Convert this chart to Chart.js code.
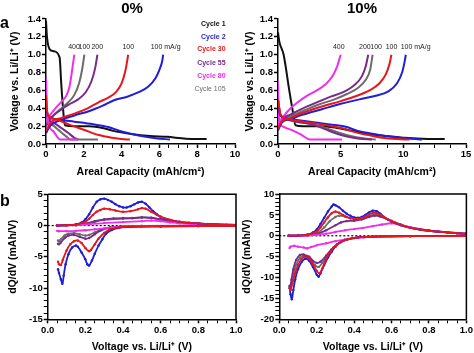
<!DOCTYPE html>
<html>
<head>
<meta charset="utf-8">
<script src="https://cdn.jsdelivr.net/npm/chart.js@4.4.0/dist/chart.umd.min.js"></script>
<style>
  html, body { margin: 0; padding: 0; background: #fff; }
  #wrap { position: relative; width: 474px; height: 353px; overflow: hidden; font-family: "Liberation Sans", Arial, sans-serif; }
  canvas { position: absolute; left: 0; top: 0; }
  .lbl { position: absolute; font-weight: bold; color: #000; line-height: 1; white-space: nowrap; }
</style>
</head>
<body>
<div id="wrap">
  <canvas id="ga0" width="474" height="353"></canvas>
  <canvas id="ga10" width="474" height="353"></canvas>
  <canvas id="gb0" width="474" height="353"></canvas>
  <canvas id="gb10" width="474" height="353"></canvas>
  <div class="lbl" style="left:0;top:15px;font-size:16px">a</div>
  <div class="lbl" style="left:0;top:193px;font-size:16px">b</div>
  <div class="lbl" style="left:132px;top:0;font-size:15px;transform:translateX(-50%)">0%</div>
  <div class="lbl" style="left:362px;top:0;font-size:15px;transform:translateX(-50%)">10%</div>
</div>
<script>
// ---- data: capacity (mAh/cm2), voltage (V) ----
const cycles = ['Cycle 1', 'Cycle 2', 'Cycle 30', 'Cycle 55', 'Cycle 80', 'Cycle 105'];

// 0 % electrode
const g0_c1_dis = [[0,1.38],[0.05,1.2],[0.2,1.06],[0.4,1.04],[0.72,0.97],[0.8,0.7],[0.9,0.4],[1.0,0.21],[1.5,0.2],[2.3,0.2],[3.0,0.18],[3.5,0.15],[4.6,0.11],[5.5,0.09],[6.4,0.08],[7.4,0.06],[8.5,0.055]];
const g0_c2_dis = [[0,0.42],[0.1,0.32],[0.3,0.29],[0.8,0.27],[1.5,0.25],[2.5,0.22],[3.3,0.19],[4.0,0.14],[4.6,0.11],[5.2,0.085],[5.8,0.065],[6.56,0.05]];
const g0_c2_chg = [[0,0.12],[0.2,0.2],[0.8,0.27],[1.5,0.32],[2.3,0.37],[3.0,0.43],[3.6,0.49],[4.3,0.53],[4.9,0.58],[5.4,0.64],[5.8,0.74],[6.0,0.83],[6.15,0.93],[6.2,1.0]];
const g0_c30_dis = [[0,0.55],[0.05,0.38],[0.2,0.3],[0.6,0.27],[1.2,0.22],[2.0,0.16],[2.8,0.1],[3.5,0.07],[4.0,0.055],[4.44,0.05]];
const g0_c30_chg = [[0,0.15],[0.3,0.25],[0.8,0.29],[1.5,0.34],[2.2,0.4],[2.8,0.47],[3.3,0.52],[3.7,0.58],[4.0,0.68],[4.2,0.82],[4.35,1.0]];
const g0_c55_dis = [[0,0.5],[0.05,0.32],[0.3,0.25],[0.8,0.18],[1.2,0.12],[1.5,0.07],[1.7,0.05]];
const g0_c55_chg = [[0,0.2],[0.3,0.3],[0.7,0.37],[1.2,0.44],[1.7,0.5],[2.1,0.58],[2.4,0.7],[2.6,0.85],[2.72,1.0]];
const g0_c80_dis = [[0,0.75],[0.05,0.4],[0.15,0.22],[0.4,0.14],[0.75,0.05],[1.7,0.05]];
const g0_c80_chg = [[0,0.25],[0.2,0.32],[0.5,0.4],[0.8,0.47],[1.1,0.55],[1.25,0.65],[1.35,0.78],[1.43,0.9],[1.5,1.0]];
const g0_c105_dis = [[0,0.45],[0.05,0.3],[0.3,0.22],[0.7,0.15],[1.1,0.08],[1.3,0.05],[2.75,0.05]];
const g0_c105_chg = [[0,0.22],[0.3,0.3],[0.7,0.38],[1.1,0.45],[1.5,0.55],[1.75,0.68],[1.9,0.82],[2.03,1.0]];
const rate0_text = ['400', '100', '200', '100', '100 mA/g'];
const rate0_cap = [1.48, 2.03, 2.71, 4.35, 6.33];

// 10 % electrode
const g10_c1_dis = [[0,1.25],[0.1,1.15],[0.45,1.0],[0.9,0.6],[1.2,0.35],[1.4,0.21],[2.0,0.2],[3.4,0.2],[4.7,0.18],[5.8,0.15],[7.4,0.11],[9.0,0.085],[10.1,0.07],[11.5,0.06],[13.3,0.055]];
const g10_c2_dis = [[0,0.42],[0.2,0.32],[0.6,0.29],[1.5,0.27],[3.0,0.24],[4.7,0.21],[5.5,0.19],[6.3,0.15],[7.3,0.12],[8.3,0.095],[9.8,0.07],[11.0,0.055],[11.5,0.05]];
const g10_c2_chg = [[0,0.15],[0.3,0.24],[1.0,0.28],[2.0,0.33],[3.5,0.39],[5.0,0.45],[6.5,0.5],[7.8,0.54],[8.8,0.59],[9.5,0.68],[9.9,0.8],[10.1,0.92],[10.2,1.0]];
const g10_c30_dis = [[0,0.5],[0.2,0.33],[0.6,0.29],[1.5,0.26],[3.0,0.23],[4.3,0.2],[5.3,0.17],[6.2,0.13],[7.2,0.1],[8.3,0.07],[9.5,0.055],[10.5,0.05]];
const g10_c30_chg = [[0,0.17],[0.3,0.25],[1.0,0.29],[2.0,0.35],[3.5,0.42],[5.0,0.48],[6.3,0.54],[7.3,0.6],[8.1,0.68],[8.6,0.78],[8.9,0.9],[9.05,1.0]];
const g10_c55_dis = [[0,0.5],[0.2,0.32],[0.6,0.28],[1.5,0.25],[2.7,0.22],[3.7,0.17],[4.6,0.12],[5.5,0.085],[6.5,0.06],[7.5,0.05]];
const g10_c55_chg = [[0,0.2],[0.3,0.28],[1.0,0.33],[2.0,0.4],[3.0,0.46],[4.0,0.52],[5.2,0.58],[6.1,0.66],[6.7,0.76],[7.0,0.87],[7.2,1.0]];
const g10_c80_dis = [[0,0.7],[0.05,0.35],[0.2,0.22],[0.5,0.19],[1.2,0.15],[1.9,0.1],[2.55,0.05],[5.1,0.05]];
const g10_c80_chg = [[0,0.2],[0.2,0.26],[0.5,0.32],[1.0,0.4],[1.6,0.47],[2.3,0.54],[3.1,0.6],[3.8,0.67],[4.3,0.75],[4.7,0.86],[5.0,1.0]];
const g10_c105_dis = [[0,0.5],[0.2,0.32],[0.6,0.28],[1.5,0.25],[2.8,0.22],[3.8,0.18],[4.8,0.13],[5.8,0.09],[6.8,0.065],[7.8,0.05]];
const g10_c105_chg = [[0,0.2],[0.3,0.27],[1.0,0.31],[2.0,0.37],[3.2,0.44],[4.5,0.5],[5.5,0.56],[6.4,0.63],[7.0,0.72],[7.35,0.83],[7.55,1.0]];
const rate10_text = ['400', '200', '100', '100', '100 mA/g'];
const rate10_cap = [4.85, 6.93, 7.83, 9.06, 10.98];

// ---- data: dQ/dV (mAh/V) vs voltage (V) ----
const d0_c2_chg = [[0.05,0],[0.1,0.05],[0.15,0.2],[0.18,0.5],[0.2,1.0],[0.22,1.8],[0.24,2.9],[0.26,3.8],[0.28,4.2],[0.3,4.3],[0.32,4.1],[0.34,3.8],[0.36,3.4],[0.38,3.1],[0.4,2.9],[0.42,2.9],[0.44,3.1],[0.46,3.4],[0.48,3.7],[0.5,3.8],[0.52,3.5],[0.54,2.9],[0.56,2.3],[0.58,1.8],[0.6,1.4],[0.65,0.9],[0.7,0.6],[0.75,0.45],[0.8,0.35],[0.85,0.25],[0.9,0.2],[0.95,0.15],[1.0,0.1]];
const d0_c2_dis = [[1.0,-0.05],[0.8,-0.1],[0.6,-0.15],[0.45,-0.2],[0.38,-0.35],[0.34,-0.7],[0.31,-1.3],[0.29,-2.2],[0.27,-3.2],[0.25,-4.5],[0.235,-5.6],[0.22,-6.4],[0.21,-6.2],[0.2,-5.4],[0.18,-4.3],[0.16,-3.4],[0.15,-3.2],[0.13,-3.5],[0.11,-4.6],[0.095,-6.2],[0.085,-8],[0.078,-9.3],[0.07,-8.6],[0.06,-7.6],[0.055,-7]];
const d0_c30_chg = [[0.05,0],[0.1,0.05],[0.15,0.15],[0.2,0.6],[0.22,1.1],[0.24,1.7],[0.26,2.2],[0.28,2.5],[0.3,2.7],[0.33,2.6],[0.36,2.4],[0.4,2.2],[0.44,2.3],[0.48,2.6],[0.5,2.8],[0.52,2.7],[0.55,2.2],[0.58,1.7],[0.6,1.4],[0.65,0.9],[0.7,0.6],[0.8,0.35],[0.9,0.2],[1.0,0.1]];
const d0_c30_dis = [[1.0,-0.05],[0.6,-0.1],[0.45,-0.15],[0.38,-0.3],[0.33,-0.6],[0.3,-1.2],[0.27,-2.1],[0.25,-3.0],[0.23,-3.9],[0.22,-4.1],[0.2,-3.6],[0.18,-2.8],[0.16,-2.4],[0.14,-2.5],[0.12,-3.0],[0.1,-4.0],[0.08,-5.5],[0.07,-6.3],[0.06,-6.2],[0.055,-5.8]];
const d0_c55_chg = [[0.05,0],[0.15,0.1],[0.2,0.3],[0.25,0.7],[0.3,1.0],[0.35,1.15],[0.4,1.2],[0.45,1.2],[0.5,1.3],[0.55,1.25],[0.6,1.0],[0.65,0.75],[0.7,0.5],[0.8,0.3],[0.9,0.15],[1.0,0.08]];
const d0_c55_dis = [[1.0,-0.03],[0.5,-0.08],[0.4,-0.15],[0.33,-0.35],[0.28,-0.8],[0.25,-1.4],[0.22,-2.0],[0.2,-2.1],[0.17,-1.8],[0.14,-1.5],[0.11,-1.6],[0.09,-2.0],[0.07,-2.7],[0.06,-3.0],[0.055,-2.9]];
const d0_c80_chg = [[0.05,0],[0.15,0.05],[0.2,0.15],[0.3,0.4],[0.4,0.55],[0.5,0.7],[0.55,0.8],[0.6,0.7],[0.65,0.5],[0.7,0.35],[0.8,0.2],[0.9,0.1],[1.0,0.05]];
const d0_c80_dis = [[1.0,-0.02],[0.5,-0.05],[0.4,-0.15],[0.35,-0.3],[0.3,-0.45],[0.25,-0.6],[0.2,-0.75],[0.15,-0.85],[0.1,-0.9],[0.06,-0.9],[0.05,-0.85]];
const d0_c105_chg = [[0.05,0],[0.15,0.1],[0.2,0.25],[0.25,0.6],[0.3,0.9],[0.35,1.05],[0.4,1.1],[0.45,1.15],[0.5,1.3],[0.55,1.2],[0.6,0.95],[0.65,0.7],[0.7,0.5],[0.8,0.3],[0.9,0.15],[1.0,0.08]];
const d0_c105_dis = [[1.0,-0.03],[0.5,-0.07],[0.4,-0.12],[0.33,-0.3],[0.28,-0.7],[0.25,-1.1],[0.22,-1.5],[0.2,-1.6],[0.17,-1.4],[0.14,-1.2],[0.11,-1.3],[0.09,-1.6],[0.07,-2.2],[0.06,-2.5],[0.055,-2.4]];

const d10_c2_chg = [[0.05,0],[0.1,0.05],[0.15,0.3],[0.18,0.8],[0.2,1.5],[0.22,2.8],[0.24,4.3],[0.26,5.8],[0.28,7.0],[0.29,7.5],[0.3,7.3],[0.32,6.8],[0.34,6.0],[0.36,5.3],[0.38,4.8],[0.4,4.4],[0.42,4.3],[0.44,4.5],[0.46,5.0],[0.48,5.6],[0.5,6.0],[0.52,5.9],[0.54,5.3],[0.56,4.5],[0.6,3.4],[0.65,2.5],[0.7,1.9],[0.75,1.5],[0.8,1.2],[0.85,1.0],[0.9,0.8],[0.95,0.6],[1.0,0.5]];
const d10_c2_dis = [[1.0,-0.05],[0.7,-0.1],[0.5,-0.2],[0.42,-0.4],[0.37,-0.8],[0.33,-1.5],[0.3,-2.6],[0.28,-3.8],[0.26,-5.2],[0.24,-7.0],[0.22,-9.0],[0.21,-9.8],[0.2,-9.3],[0.18,-7.5],[0.16,-6.0],[0.14,-5.5],[0.12,-6.2],[0.1,-8.0],[0.085,-10.5],[0.075,-13],[0.067,-15.2],[0.06,-14],[0.055,-12.5]];
const d10_c30_chg = [[0.05,0],[0.1,0.05],[0.15,0.2],[0.2,1.0],[0.22,2.0],[0.24,3.2],[0.26,4.4],[0.28,5.4],[0.3,5.8],[0.32,5.5],[0.34,5.0],[0.36,4.5],[0.38,4.2],[0.4,4.0],[0.42,4.0],[0.44,4.2],[0.46,4.6],[0.48,5.1],[0.5,5.5],[0.52,5.4],[0.54,5.0],[0.56,4.4],[0.6,3.5],[0.65,2.6],[0.7,1.9],[0.75,1.5],[0.8,1.2],[0.85,1.0],[0.9,0.8],[0.95,0.6],[1.0,0.5]];
const d10_c30_dis = [[1.0,-0.05],[0.7,-0.1],[0.5,-0.2],[0.42,-0.4],[0.37,-0.8],[0.33,-1.5],[0.3,-2.5],[0.27,-4],[0.25,-5.6],[0.23,-7.8],[0.215,-9],[0.2,-8.4],[0.18,-6.8],[0.16,-5.5],[0.14,-5.0],[0.12,-5.5],[0.1,-7.0],[0.085,-9],[0.07,-11.5],[0.06,-13],[0.055,-12.5]];
const d10_c55_chg = [[0.05,0],[0.15,0.1],[0.2,0.4],[0.25,1.3],[0.3,2.5],[0.33,3.2],[0.36,3.5],[0.4,3.6],[0.44,3.9],[0.48,4.5],[0.51,4.8],[0.54,4.6],[0.58,3.9],[0.62,3.1],[0.7,2.0],[0.8,1.2],[0.9,0.8],[1.0,0.5]];
const d10_c55_dis = [[1.0,-0.05],[0.5,-0.2],[0.42,-0.4],[0.35,-1.0],[0.31,-2.0],[0.28,-3.2],[0.25,-4.8],[0.22,-6.2],[0.2,-6.5],[0.18,-6.0],[0.16,-5.0],[0.13,-4.5],[0.11,-4.6],[0.09,-5.8],[0.075,-8],[0.065,-10.5],[0.058,-12.5],[0.055,-12]];
const d10_c80_chg = [[0.05,0],[0.15,0.05],[0.2,0.2],[0.25,0.5],[0.3,0.9],[0.35,1.3],[0.4,1.6],[0.45,1.9],[0.5,2.3],[0.55,2.7],[0.6,3.0],[0.65,2.6],[0.7,2.0],[0.8,1.3],[0.9,0.8],[1.0,0.5]];
const d10_c80_dis = [[1.0,-0.03],[0.6,-0.1],[0.5,-0.2],[0.45,-0.4],[0.4,-0.6],[0.35,-0.9],[0.3,-1.3],[0.25,-1.8],[0.2,-2.3],[0.17,-2.7],[0.15,-3.0],[0.13,-2.8],[0.1,-2.6],[0.08,-2.4],[0.06,-2.6],[0.055,-2.9]];
const d10_c105_chg = [[0.05,0],[0.15,0.15],[0.2,0.6],[0.24,2.0],[0.27,3.5],[0.3,4.5],[0.32,4.8],[0.35,4.6],[0.38,4.2],[0.42,4.0],[0.46,4.4],[0.5,5.0],[0.52,5.1],[0.55,4.6],[0.6,3.6],[0.65,2.7],[0.7,2.0],[0.8,1.2],[0.9,0.8],[1.0,0.5]];
const d10_c105_dis = [[1.0,-0.05],[0.5,-0.2],[0.42,-0.4],[0.36,-0.9],[0.32,-1.7],[0.29,-2.8],[0.26,-4.5],[0.23,-6.5],[0.21,-7.5],[0.19,-7.0],[0.17,-5.8],[0.15,-5.0],[0.13,-4.8],[0.11,-5.3],[0.09,-7],[0.075,-9.5],[0.065,-11.5],[0.055,-12]];
const zeroLine = [[0,0],[1,0]];

// ---- styles ----
const COL = { c1: '#111111', c2: '#1e1ed8', c30: '#e8161c', c55: '#7a2a88', c80: '#f02cf0', c105: '#6c6c6c' };
const FONT = '"Liberation Sans", Arial, Helvetica, sans-serif';
Chart.defaults.font.family = FONT;
Chart.defaults.color = '#000';

const isMajor = (v, step) => Math.abs(v / step - Math.round(v / step)) < 1e-6;

function axis(o) {
  return {
    type: 'linear', min: o.min, max: o.max,
    afterBuildTicks: (s) => {
      const n = Math.round((o.max - o.min) / o.minor);
      const t = [];
      for (let i = 0; i <= n; i++) t.push({ value: o.min + i * o.minor });
      s.ticks = t;
    },
    afterFit: (s) => { if (o.horiz) s.height = o.size; else s.width = o.size; },
    ticks: {
      autoSkip: false, maxRotation: 0, minRotation: 0, padding: 1, color: '#000',
      font: { size: 9.5, weight: 'bold' },
      callback: (v) => (isMajor(v, o.major) ? o.fmt(v) : ''),
    },
    grid: {
      drawOnChartArea: false, drawTicks: true, tickLength: 4, tickColor: '#000',
      tickWidth: (c) => (c.tick && isMajor(c.tick.value, o.major) ? 1.5 : 1),
    },
    border: { display: true, color: '#000', width: 1.5 },
    title: { display: true, text: o.title, color: '#000', font: { size: 10.5, weight: 'bold' }, padding: o.titlePad },
  };
}

// text labels and frame drawn over the plot, placed through the scales
const extras = {
  id: 'extras',
  afterDatasetsDraw(chart, args, opts) {
    const { ctx, chartArea: a, scales: { x, y } } = chart;
    ctx.save();
    if (opts.box) {
      ctx.strokeStyle = '#000'; ctx.lineWidth = 1.5;
      ctx.beginPath(); ctx.moveTo(a.left, a.top); ctx.lineTo(a.right, a.top); ctx.lineTo(a.right, a.bottom); ctx.stroke();
    }
    (opts.marks || []).forEach((m) => {
      ctx.font = m.font; ctx.fillStyle = m.color; ctx.textAlign = m.align || 'center'; ctx.textBaseline = 'middle';
      ctx.fillText(m.text, x.getPixelForValue(m.x), y.getPixelForValue(m.y));
    });
    ctx.restore();
  },
};

const curve = (data, color, order) => ({ data, borderColor: color, backgroundColor: color, borderWidth: 2, showLine: true, pointRadius: 0, cubicInterpolationMode: 'monotone', order });
const dots = (data, color, order) => ({ data, borderColor: color, backgroundColor: color, borderWidth: 1.8, showLine: true, pointRadius: 1.2, pointBorderWidth: 0, tension: 0.3, order });

function makeChart(id, pad, datasets, x, y, ext) {
  return new Chart(document.getElementById(id), {
    type: 'scatter',
    data: { datasets },
    options: {
      responsive: false, animation: false, events: [],
      layout: { padding: pad },
      plugins: { legend: { display: false }, tooltip: { enabled: false }, extras: ext },
      scales: { x, y },
    },
    plugins: [extras],
  });
}

const fmt1 = (v) => v.toFixed(1);
const fmt0 = (v) => String(Math.round(v));
const capTitle = 'Areal Capacity (mAh/cm²)';
const voltTitle = 'Voltage vs. Li/Li⁺ (V)';
const dqTitle = 'dQ/dV (mAh/V)';

// ---- panel a, 0 % ----
const legendColors = [COL.c1, COL.c2, COL.c30, COL.c55, COL.c80, COL.c105];
const legendV = [1.34, 1.2, 1.06, 0.91, 0.76, 0.61];
const marks0 = rate0_text.map((t, i) => ({ text: t, x: rate0_cap[i], y: 1.09, color: '#222', font: '7px ' + FONT }))
  .concat(cycles.map((c, i) => ({ text: c, x: 9.5, y: legendV[i], color: legendColors[i], align: 'right', font: (i === 5 ? '' : 'bold ') + '7px ' + FONT })));

makeChart('ga0', { left: 0, top: 19, right: 239, bottom: 174 }, [
  curve(g0_c1_dis, COL.c1, 6),
  curve(g0_c2_dis, COL.c2, 2), curve(g0_c2_chg, COL.c2, 2),
  curve(g0_c30_dis, COL.c30, 1), curve(g0_c30_chg, COL.c30, 1),
  curve(g0_c55_dis, COL.c55, 4), curve(g0_c55_chg, COL.c55, 4),
  curve(g0_c80_dis, COL.c80, 3), curve(g0_c80_chg, COL.c80, 3),
  curve(g0_c105_dis, COL.c105, 5), curve(g0_c105_chg, COL.c105, 5),
],
  axis({ min: 0, max: 10, major: 2, minor: 0.5, fmt: fmt0, title: capTitle, horiz: true, size: 35, titlePad: { top: 0, bottom: 0.7 } }),
  axis({ min: 0, max: 1.4, major: 0.2, minor: 0.1, fmt: fmt1, title: voltTitle, size: 46, titlePad: { top: 8.7, bottom: 0 } }),
  { marks: marks0 });

// ---- panel a, 10 % ----
const marks10 = rate10_text.map((t, i) => ({ text: t, x: rate10_cap[i], y: 1.09, color: '#222', font: '7px ' + FONT }));
makeChart('ga10', { left: 238, top: 19, right: 8, bottom: 174 }, [
  curve(g10_c1_dis, COL.c1, 6),
  curve(g10_c2_dis, COL.c2, 2), curve(g10_c2_chg, COL.c2, 2),
  curve(g10_c30_dis, COL.c30, 1), curve(g10_c30_chg, COL.c30, 1),
  curve(g10_c55_dis, COL.c55, 4), curve(g10_c55_chg, COL.c55, 4),
  curve(g10_c80_dis, COL.c80, 3), curve(g10_c80_chg, COL.c80, 3),
  curve(g10_c105_dis, COL.c105, 5), curve(g10_c105_chg, COL.c105, 5),
],
  axis({ min: 0, max: 15, major: 5, minor: 1.25, fmt: fmt0, title: capTitle, horiz: true, size: 35, titlePad: { top: 0, bottom: 0.7 } }),
  axis({ min: 0, max: 1.4, major: 0.2, minor: 0.1, fmt: fmt1, title: voltTitle, size: 40, titlePad: { top: 6, bottom: 0 } }),
  { marks: marks10 });

// ---- panel b, 0 % ----
makeChart('gb0', { left: 0, top: 194.3, right: 238, bottom: 0 }, [
  { data: zeroLine, borderColor: '#000', borderWidth: 1.2, borderDash: [2, 2], showLine: true, pointRadius: 0, order: 100 },
  dots(d0_c2_chg, COL.c2, 2), dots(d0_c2_dis, COL.c2, 2),
  dots(d0_c30_chg, COL.c30, 1), dots(d0_c30_dis, COL.c30, 1),
  dots(d0_c55_chg, COL.c55, 4), dots(d0_c55_dis, COL.c55, 4),
  dots(d0_c80_chg, COL.c80, 3), dots(d0_c80_dis, COL.c80, 3),
  dots(d0_c105_chg, COL.c105, 5), dots(d0_c105_dis, COL.c105, 5),
],
  axis({ min: 0, max: 1, major: 0.2, minor: 0.05, fmt: fmt1, title: voltTitle, horiz: true, size: 33.7, titlePad: { top: 0, bottom: 0 } }),
  axis({ min: -15, max: 5, major: 5, minor: 1, fmt: fmt0, title: dqTitle, size: 47.7, titlePad: { top: 7, bottom: 0 } }),
  { box: true });

// ---- panel b, 10 % ----
makeChart('gb10', { left: 239.3, top: 194, right: 6.3, bottom: 0 }, [
  { data: zeroLine, borderColor: '#000', borderWidth: 1.2, borderDash: [2, 2], showLine: true, pointRadius: 0, order: 100 },
  dots(d10_c2_chg, COL.c2, 2), dots(d10_c2_dis, COL.c2, 2),
  dots(d10_c30_chg, COL.c30, 1), dots(d10_c30_dis, COL.c30, 1),
  dots(d10_c55_chg, COL.c55, 4), dots(d10_c55_dis, COL.c55, 4),
  dots(d10_c80_chg, COL.c80, 3), dots(d10_c80_dis, COL.c80, 3),
  dots(d10_c105_chg, COL.c105, 5), dots(d10_c105_dis, COL.c105, 5),
],
  axis({ min: 0, max: 1, major: 0.2, minor: 0.05, fmt: fmt1, title: voltTitle, horiz: true, size: 33.7, titlePad: { top: 0, bottom: 0 } }),
  axis({ min: -20, max: 10, major: 5, minor: 1, fmt: fmt0, title: dqTitle, size: 40, titlePad: { top: 1.4, bottom: 0 } }),
  { box: true });
</script>
</body>
</html>
